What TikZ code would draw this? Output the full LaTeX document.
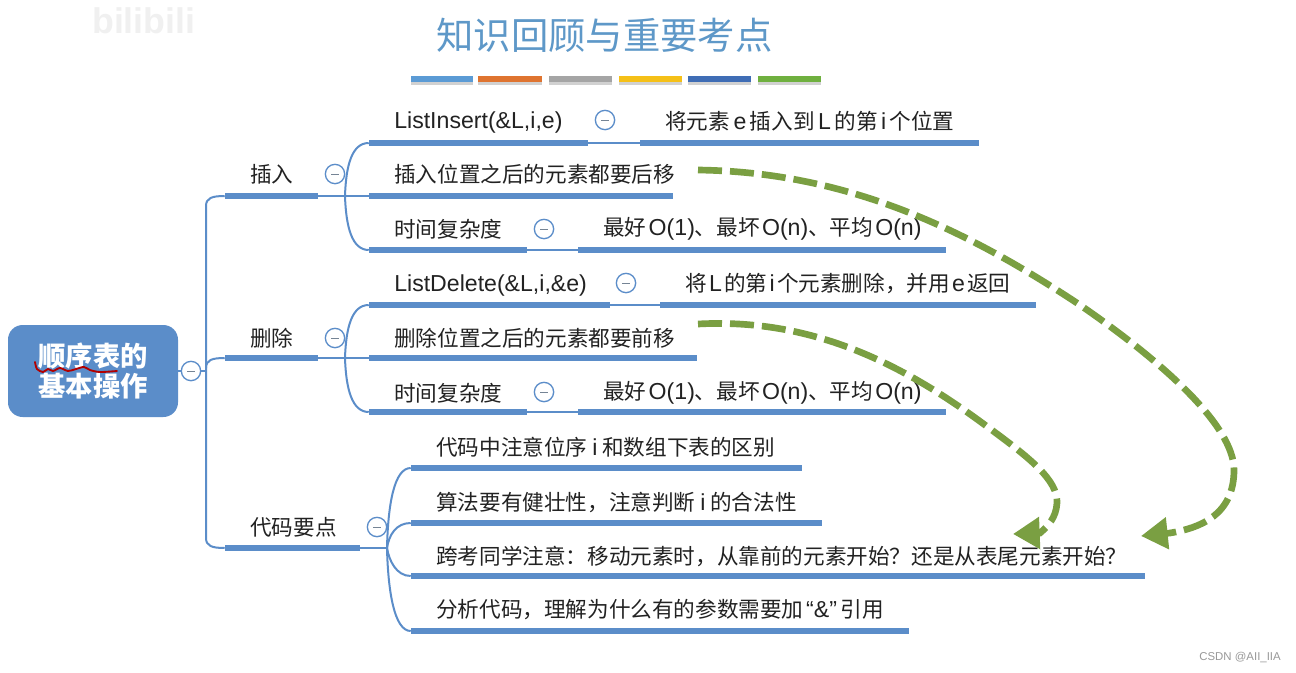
\documentclass[tikz,border=0pt]{standalone}
\usepackage{fontspec}
\setmainfont{Noto Sans CJK SC}
\newfontfamily\lat[Scale=1.07]{Liberation Sans}
\usetikzlibrary{arrows.meta}
\definecolor{mapblue}{HTML}{5B8DC9}
\definecolor{titleblue}{HTML}{5E98C8}
\definecolor{mapgreen}{HTML}{7A9F42}
\definecolor{ink}{HTML}{222222}
\tikzset{
  barnode/.style={fill=mapblue,draw=none,inner sep=0pt,minimum height=4.2pt},
  thinline/.style={draw=mapblue,line width=1.5pt},
  lbl/.style={anchor=west,inner sep=0pt,font=\fontsize{16.2pt}{18pt}\selectfont,text=ink},
  collapse/.style={circle,draw=mapblue,line width=1pt,fill=white,minimum size=14.5pt,inner sep=0pt,path picture={\draw[gray!70!mapblue,line width=.7pt] ([xshift=-3pt]path picture bounding box.center)--([xshift=3pt]path picture bounding box.center);}},
  swatch/.style={inner sep=0pt,minimum height=4.6pt,minimum width=47pt,draw=none},
  greenarrow/.style={draw=mapgreen,line width=5pt,dash pattern=on 18pt off 6pt,-{Triangle[length=20pt,width=23pt,fill=mapgreen]}},
}
\newcommand{\mbar}[4]{\node[barnode,minimum width={(#3-#2)*0.75pt}] (#1) at ({(#2+#3)/2},#4) {};}
\newcommand{\gapa}{\hspace{2.6pt}}
\newcommand{\gapb}{\hspace{1.7pt}}
\begin{document}
\begin{tikzpicture}[x=0.75pt,y=-0.75pt]
\useasboundingbox (0,0) rectangle (1296,672);
\fill[white] (0,0) rectangle (1296,672);

% watermark
\node[inner sep=0pt,anchor=west,text=black!6,font=\fontsize{25pt}{25pt}\selectfont\bfseries\lat] (wm) at (92,21) {bilibili};
\node[anchor=east,inner sep=0pt,text=gray!80,font=\fontsize{8pt}{11pt}\selectfont\lat] (csdn) at (1281,657) {CSDN @AII\_IIA};

% title
\node[inner sep=0pt,text=titleblue,font=\fontsize{28pt}{34pt}\selectfont] (title) at (604.5,35) {知识回顾与重要考点};
\foreach \xa/\xb/\c [count=\i] in {411/473/5B9BD5,478/542/DF7430,549/612/A5A5A5,619/682/F5C018,688/751/3F6DB5,758/821/6FB03F}{
  \definecolor{swc}{HTML}{\c}
  \fill[black!18] (\xa,78) rectangle (\xb,85);
  \node[swatch,fill=swc,minimum width={(\xb-\xa)*0.75pt}] (sw\i) at ({(\xa+\xb)/2},79) {};
}

% root
\node[fill=mapblue,rounded corners=11pt,minimum width=127.5pt,minimum height=69pt,inner sep=0pt,text=white,align=center,font=\fontsize{20.5pt}{22.5pt}\selectfont\bfseries] (root) at (93,371) {顺序表的\\基本操作};
\draw[draw=red!70!black,line width=1.4pt,line cap=round] plot[smooth] coordinates {(35,362) (37,369) (43,372) (48,369) (53,371) (60,368) (68,371) (76,369) (84,367) (90,370) (100,372) (117,371)};

% branch bars
\mbar{bi}{225}{318}{196}
\mbar{bd}{225}{318}{358}
\mbar{bc}{225}{360}{548}
\node[lbl] (ti) at (250,174) {插入};
\node[lbl] (td) at (250,338) {删除};
\node[lbl] (tc) at (250,527) {代码要点};

% insert children
\mbar{i1}{369}{588}{143}
\mbar{i1b}{640}{979}{143}
\mbar{i2}{369}{673}{196}
\mbar{i3}{369}{527}{250}
\mbar{i3b}{578}{946}{250}
\node[lbl] (ti1) at (394,123) {\lat ListInsert(\&L,i,e)};
\node[lbl] (ti1b) at (665,121) {将元素\gapa{\lat e}\gapa 插入到\gapa{\lat L}\gapa 的第\gapa{\lat i}\gapa 个位置};
\node[lbl] (ti2) at (394,174) {插入位置之后的元素都要后移};
\node[lbl] (ti3) at (394,229) {时间复杂度};
\node[lbl] (ti3b) at (603,229) {最好\gapb{\lat O(1)}、最坏\gapb{\lat O(n)}、平均\gapb{\lat O(n)}};

% delete children
\mbar{d1}{369}{610}{305}
\mbar{d1b}{660}{1036}{305}
\mbar{d2}{369}{697}{358}
\mbar{d3}{369}{527}{412}
\mbar{d3b}{578}{946}{412}
\node[lbl] (td1) at (394,286) {\lat ListDelete(\&L,i,\&e)};
\node[lbl] (td1b) at (685,284) {将\gapb{\lat L}\gapb 的第\gapb{\lat i}\gapb 个元素删除，并用\gapb{\lat e}\gapb 返回};
\node[lbl] (td2) at (394,338) {删除位置之后的元素都要前移};
\node[lbl] (td3) at (394,393) {时间复杂度};
\node[lbl] (td3b) at (603,393) {最好\gapb{\lat O(1)}、最坏\gapb{\lat O(n)}、平均\gapb{\lat O(n)}};

% code children
\mbar{c1}{411}{802}{468}
\mbar{c2}{411}{822}{523}
\mbar{c3}{411}{1145}{576}
\mbar{c4}{411}{909}{631}
\node[lbl] (tc1) at (436,447) {代码中注意位序 {\lat i} 和数组下表的区别};
\node[lbl] (tc2) at (436,502) {算法要有健壮性，注意判断 {\lat i} 的合法性};
\node[lbl] (tc3) at (436,556) {跨考同学注意：移动元素时，从靠前的元素开始？还是从表尾元素开始？};
\node[lbl] (tc4) at (436,610) {分析代码，理解为什么有的参数需要加\hspace{2pt}{\lat “\&”}\hspace{3pt}引用};

% connectors
\coordinate (trunkm) at (206,371);
\draw[thinline] (bi.west) .. controls (212,196) and (206,198) .. (206,206) -- (206,538) .. controls (206,546) and (212,548) .. (bc.west);
\draw[thinline] (root.east) -- (trunkm);
\draw[thinline] (206,368) .. controls (206,360) and (212,358) .. (bd.west);

\coordinate (hi) at (345,196);
\coordinate (hd) at (345,358);
\coordinate (hc) at (387,548);
\draw[thinline] (bi.east) -- (i2.west);
\draw[thinline] (bd.east) -- (d2.west);
\draw[thinline] (bc.east) -- (hc);
\draw[thinline] (hi) .. controls (346,165) and (352,143) .. (i1.west);
\draw[thinline] (hi) .. controls (346,227) and (352,250) .. (i3.west);
\draw[thinline] (hd) .. controls (346,327) and (352,305) .. (d1.west);
\draw[thinline] (hd) .. controls (346,389) and (352,412) .. (d3.west);
\draw[thinline] (hc) .. controls (388,505) and (394,468) .. (c1.west);
\draw[thinline] (hc) .. controls (389,535) and (396,523) .. (c2.west);
\draw[thinline] (hc) .. controls (389,560) and (396,576) .. (c3.west);
\draw[thinline] (hc) .. controls (388,590) and (394,631) .. (c4.west);
\draw[thinline] (i1.east) -- (i1b.west);
\draw[thinline] (i3.east) -- (i3b.west);
\draw[thinline] (d1.east) -- (d1b.west);
\draw[thinline] (d3.east) -- (d3b.west);

% collapse buttons
\node[collapse] (cr) at (191,371) {};
\node[collapse] (ci) at (335,174) {};
\node[collapse] (cd) at (335,338) {};
\node[collapse] (cc) at (377,527) {};
\node[collapse] (ci1) at (605,120) {};
\node[collapse] (ci3) at (544,229) {};
\node[collapse] (cd1) at (626,283) {};
\node[collapse] (cd3) at (544,392) {};

% green arrows
\coordinate (g1s) at (698,170);
\coordinate (g1e) at (1141,536);
\coordinate (g2s) at (698,324);
\coordinate (g2e) at (1013,534);
\draw[greenarrow] (g1s) .. controls (850,172) and (970,232) .. (1080,305) .. controls (1160,360) and (1234,425) .. (1234,470) .. controls (1234,515) and (1200,528) .. (1170,533) -- (g1e);
\draw[greenarrow] (g2s) .. controls (810,318) and (900,362) .. (985,425) .. controls (1030,458) and (1058,480) .. (1057,503) .. controls (1056,518) and (1048,526) .. (1040,533) -- (g2e);
\end{tikzpicture}
\end{document}
